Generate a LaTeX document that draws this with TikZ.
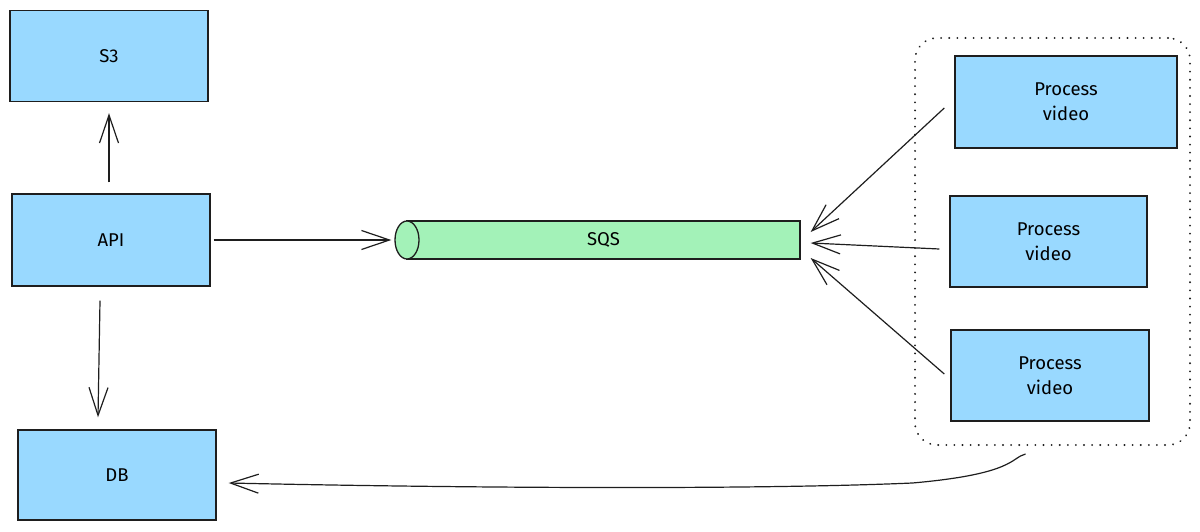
\documentclass[tikz,border=0pt]{standalone}
\usepackage{fontspec}
\setmainfont{Fira Sans}
\usetikzlibrary{arrows.meta,calc,shapes.geometric}
\definecolor{boxblue}{RGB}{153,217,255}
\definecolor{qgreen}{RGB}{163,242,184}
\definecolor{inkc}{RGB}{30,30,30}
\tikzset{
  svc/.style={draw=inkc, line width=1.4pt, fill=boxblue, rectangle, inner sep=0pt,
    font=\fontsize{18.5}{25}\selectfont, align=center},
  qbody/.style={draw=inkc, line width=1.3pt, fill=qgreen, rectangle, inner sep=0pt,
    font=\fontsize{18.5}{25}\selectfont},
  qend/.style={draw=inkc, line width=1.3pt, fill=qgreen, ellipse, inner sep=0pt},
  grp/.style={draw=inkc, line width=2pt, line cap=round, dash pattern=on 0.1pt off 8pt, rounded corners=22pt, inner sep=0pt},
  arr/.style={draw=inkc, line width=1.2pt, -{Straight Barb[length=28pt,width=19pt,line width=1.2pt]}},
}
\begin{document}
\begin{tikzpicture}[x=1pt,y=-1pt]
\useasboundingbox (0,0) rectangle (1200,532);
\node[svc, minimum width=198pt, minimum height=91pt] (s3) at (109,56) {S3};
\node[svc, minimum width=198pt, minimum height=92pt] (api) at (111,240) {API};
\node[svc, minimum width=198pt, minimum height=90pt] (db) at (117,475) {DB};
\node[qbody, minimum width=393pt, minimum height=38pt] (sqs) at (603.5,240) {SQS};
\node[qend, minimum width=24pt, minimum height=38pt] (sqsend) at (407,240) {};
\node[grp, minimum width=275pt, minimum height=407pt] (grp) at (1052.5,241.5) {};
\node[svc, minimum width=222pt, minimum height=92pt] (p1) at (1066,102) {Process\\video};
\node[svc, minimum width=197pt, minimum height=91pt] (p2) at (1048.5,241.5) {Process\\video};
\node[svc, minimum width=198pt, minimum height=91pt] (p3) at (1050,375.5) {Process\\video};
% arrows
\draw[arr] ($(api.north)+(-2,-11)$) -- ($(s3.south)+(0,11)$);
\draw[arr] ($(api.east)+(3,0)$) -- ($(sqsend.west)+(-3,0)$);
\draw[arr] ($(api.south)+(-11,14)$) -- ($(db.north)+(-19,-12)$);
\draw[arr] ($(p1.west)+(-10,6)$) -- ($(sqs.east)+(10,-8)$);
\draw[arr] ($(p2.west)+(-10,7.5)$) -- ($(sqs.east)+(10,3)$);
\draw[arr] ($(p3.west)+(-6,-1.5)$) -- ($(sqs.east)+(10,18)$);
\draw[arr] ($(grp.south)+(-27,8)$) .. controls ($(grp.south)+(-42,12)$) and ($(grp.south)+(-38,28)$) .. ($(grp.south)+(-140,37)$)
  .. controls ($(grp.south)+(-300,44)$) and ($(grp.south)+(-600,42)$) .. ($(db.east)+(12,8)$);
\end{tikzpicture}
\end{document}
